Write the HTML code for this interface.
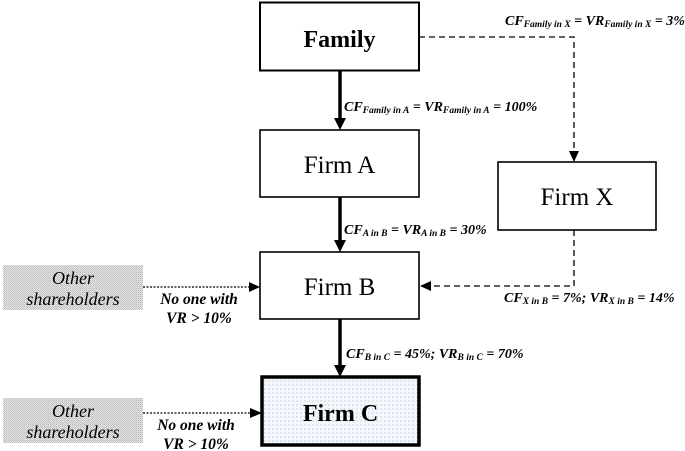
<!DOCTYPE html>
<html><head><style>
html,body{margin:0;padding:0;background:#fff;width:685px;height:451px;overflow:hidden}
svg text{font-family:"Liberation Serif",serif}
.l{font-size:14px;font-weight:bold;font-style:italic}
.s{font-size:9.5px;font-weight:bold;font-style:italic}
.n{font-size:15.5px;font-weight:bold;font-style:italic}
</style></head><body>
<svg width="685" height="451" viewBox="0 0 685 451" xmlns="http://www.w3.org/2000/svg">
<defs>
<pattern id="dots" width="4" height="4" patternUnits="userSpaceOnUse"><rect width="4" height="4" fill="#f4f7fb"/><circle cx="1" cy="1" r="0.6" fill="#a9bfd8"/></pattern>
<pattern id="grey" width="2" height="2" patternUnits="userSpaceOnUse"><rect width="2" height="2" fill="#e6e6e6"/><rect width="1" height="1" fill="#b8b8b8"/><rect x="1" y="1" width="1" height="1" fill="#c8c8c8"/></pattern>
</defs>
<rect x="260" y="2.5" width="159" height="68" fill="#fff" stroke="#000" stroke-width="2"/>
<text x="339.5" y="47" text-anchor="middle" font-size="24" font-weight="bold">Family</text>
<rect x="260" y="130" width="159" height="67" fill="#fff" stroke="#000" stroke-width="1.6"/>
<text x="339.5" y="173" text-anchor="middle" font-size="25">Firm A</text>
<rect x="498" y="162" width="158" height="68" fill="#fff" stroke="#000" stroke-width="1.6"/>
<text x="577" y="205" text-anchor="middle" font-size="25">Firm X</text>
<rect x="260" y="252" width="159" height="67" fill="#fff" stroke="#000" stroke-width="1.6"/>
<text x="339.5" y="295" text-anchor="middle" font-size="25">Firm B</text>
<rect x="262" y="377" width="157" height="68" fill="url(#dots)" stroke="#000" stroke-width="3.5"/>
<text x="340.5" y="421" text-anchor="middle" font-size="24" font-weight="bold">Firm C</text>
<rect x="3" y="265" width="140" height="45" fill="url(#grey)"/>
<text x="73" y="284" text-anchor="middle" font-size="18" font-style="italic">Other</text>
<text x="73" y="305" text-anchor="middle" font-size="18" font-style="italic">shareholders</text>
<rect x="3" y="398" width="140" height="45" fill="url(#grey)"/>
<text x="73" y="417" text-anchor="middle" font-size="18" font-style="italic">Other</text>
<text x="73" y="438" text-anchor="middle" font-size="18" font-style="italic">shareholders</text>
<g stroke="#000" stroke-width="3.5">
<line x1="340" y1="71" x2="340" y2="119"/>
<line x1="340" y1="197" x2="340" y2="241"/>
<line x1="340" y1="319" x2="340" y2="366"/>
</g>
<g fill="#000">
<polygon points="334,118 346,118 340,130"/>
<polygon points="334,240 346,240 340,252"/>
<polygon points="334,365 346,365 340,377"/>
</g>
<g stroke="#000" stroke-width="1.3" stroke-dasharray="6,4" fill="none">
<polyline points="419,37 574,37 574,152"/>
<polyline points="574,230 574,286 430,286"/>
</g>
<polygon points="569,151 579,151 574,162" fill="#000"/>
<polygon points="431,281 431,291 420,286" fill="#000"/>
<g stroke="#000" stroke-width="1.3" stroke-dasharray="2,1.5">
<line x1="143" y1="287" x2="250" y2="287"/>
<line x1="143" y1="413" x2="251" y2="413"/>
</g>
<polygon points="249,282 249,292 260,287" fill="#000"/>
<polygon points="250,408 250,418 262,413" fill="#000"/>
<text x="344" y="111" class="l">CF<tspan class="s" dy="2">Family in A</tspan><tspan dy="-2"> = VR</tspan><tspan class="s" dy="2">Family in A</tspan><tspan dy="-2"> = 100%</tspan></text>
<text x="344" y="234" class="l">CF<tspan class="s" dy="2">A in B</tspan><tspan dy="-2"> = VR</tspan><tspan class="s" dy="2">A in B</tspan><tspan dy="-2"> = 30%</tspan></text>
<text x="346" y="358" class="l">CF<tspan class="s" dy="2">B in C</tspan><tspan dy="-2"> = 45%; VR</tspan><tspan class="s" dy="2">B in C</tspan><tspan dy="-2"> = 70%</tspan></text>
<text x="505" y="25" class="l">CF<tspan class="s" dy="2">Family in X</tspan><tspan dy="-2"> = VR</tspan><tspan class="s" dy="2">Family in X</tspan><tspan dy="-2"> = 3%</tspan></text>
<text x="504" y="302" class="l">CF<tspan class="s" dy="2">X in B</tspan><tspan dy="-2"> = 7%; VR</tspan><tspan class="s" dy="2">X in B</tspan><tspan dy="-2"> = 14%</tspan></text>
<text x="199" y="304" text-anchor="middle" class="n">No one with</text>
<text x="199" y="323" text-anchor="middle" class="n">VR &gt; 10%</text>
<text x="196" y="430" text-anchor="middle" class="n">No one with</text>
<text x="196" y="449" text-anchor="middle" class="n">VR &gt; 10%</text>
</svg>
</body></html>
